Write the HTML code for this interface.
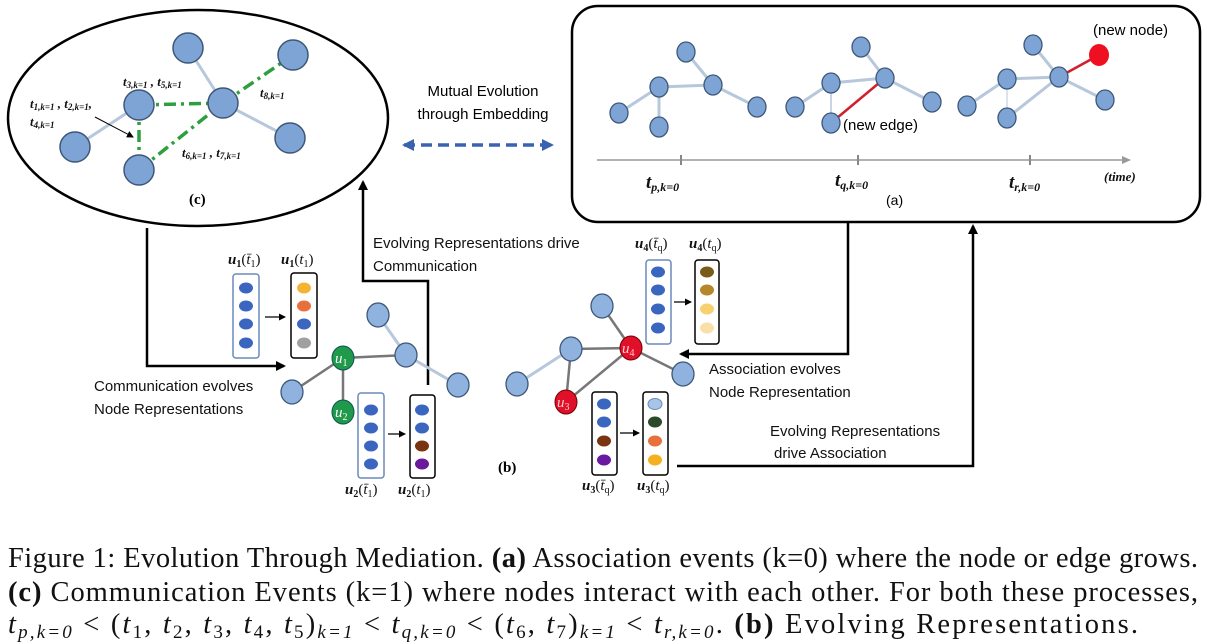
<!DOCTYPE html>
<html><head><meta charset="utf-8"><style>
html,body{margin:0;padding:0;background:#fff;}
svg{display:block;}
.s{font-family:"Liberation Sans",sans-serif;}
.m{font-family:"Liberation Serif",serif;font-style:italic;font-weight:bold;}
.cap{font-family:"Liberation Serif",serif;font-size:28.5px;fill:#111;}
</style></head><body>
<svg width="1207" height="644" viewBox="0 0 1207 644" xmlns="http://www.w3.org/2000/svg">
<defs>
<marker id="ah" markerWidth="10" markerHeight="10" refX="8" refY="5" orient="auto" markerUnits="userSpaceOnUse"><path d="M0,0 L10,5 L0,10 z" fill="#000"/></marker>
<marker id="ahs" markerWidth="7" markerHeight="7" refX="6" refY="3.5" orient="auto" markerUnits="userSpaceOnUse"><path d="M0,0 L7,3.5 L0,7 z" fill="#000"/></marker>
<marker id="ab" markerWidth="12" markerHeight="12" refX="10" refY="6" orient="auto-start-reverse" markerUnits="userSpaceOnUse"><path d="M0,0 L12,6 L0,12 z" fill="#3a62b0"/></marker>
</defs>

<ellipse cx="198" cy="118" rx="190" ry="108" fill="#fff" stroke="#000" stroke-width="2.5"/>
<g stroke="#b7c7dc" stroke-width="3">
<line x1="75" y1="147" x2="139" y2="105"/><line x1="188" y1="48" x2="223" y2="103"/><line x1="223" y1="103" x2="290" y2="138"/>
</g>
<g stroke="#2e9e3e" stroke-width="3.5" stroke-dasharray="12,5,3,5" fill="none">
<line x1="139" y1="105" x2="223" y2="103"/><line x1="139" y1="105" x2="139" y2="170"/><line x1="139" y1="170" x2="223" y2="103"/><line x1="223" y1="103" x2="293" y2="55"/>
</g>
<g fill="#7ea4d6" stroke="#3d5778" stroke-width="1.5">
<circle cx="188" cy="48" r="15"/><circle cx="293" cy="55" r="15"/><circle cx="139" cy="105" r="15"/><circle cx="223" cy="103" r="15"/><circle cx="75" cy="147" r="15"/><circle cx="139" cy="170" r="15"/><circle cx="290" cy="138" r="15"/>
</g>
<line x1="95" y1="117" x2="133" y2="137" stroke="#000" stroke-width="1" marker-end="url(#ahs)"/>
<g class="m" font-size="13" fill="#111">
<text x="123" y="86">t<tspan font-size="9" dy="2">3,k=1</tspan><tspan dy="-2"> , t</tspan><tspan font-size="9" dy="2">5,k=1</tspan></text>
<text x="30" y="108">t<tspan font-size="9" dy="2">1,k=1</tspan><tspan dy="-2"> , t</tspan><tspan font-size="9" dy="2">2,k=1</tspan><tspan dy="-2">,</tspan></text>
<text x="30" y="126">t<tspan font-size="9" dy="2">4,k=1</tspan></text>
<text x="260" y="97">t<tspan font-size="9" dy="2">8,k=1</tspan></text>
<text x="182" y="157">t<tspan font-size="9" dy="2">6,k=1</tspan><tspan dy="-2"> , t</tspan><tspan font-size="9" dy="2">7,k=1</tspan></text>
</g>
<text x="189" y="204" font-family="Liberation Serif,serif" font-weight="bold" font-size="15">(c)</text>

<text class="s" x="483" y="96" font-size="15" text-anchor="middle">Mutual Evolution</text>
<text class="s" x="483" y="119" font-size="15" text-anchor="middle">through Embedding</text>
<line x1="404" y1="145" x2="552" y2="145" stroke="#3a62b0" stroke-width="3.5" stroke-dasharray="11,6" marker-start="url(#ab)" marker-end="url(#ab)"/>

<rect x="572" y="6" width="628" height="216" rx="26" fill="#fff" stroke="#000" stroke-width="2.5"/>
<g stroke="#b7c7dc" stroke-width="3">
<line x1="686" y1="52" x2="713" y2="85"/><line x1="659" y1="87" x2="713" y2="85"/><line x1="659" y1="87" x2="619" y2="113"/><line x1="659" y1="87" x2="659" y2="127"/><line x1="713" y1="85" x2="757" y2="107"/>
<line x1="861" y1="47" x2="885" y2="78"/><line x1="831" y1="83" x2="885" y2="78"/><line x1="831" y1="83" x2="795" y2="107"/><line x1="831" y1="83" x2="831" y2="123" stroke-width="1.5"/><line x1="885" y1="78" x2="932" y2="102"/>
<line x1="1033" y1="45" x2="1059" y2="77"/><line x1="1007" y1="79" x2="1059" y2="77"/><line x1="1007" y1="79" x2="967" y2="106"/><line x1="1007" y1="79" x2="1007" y2="118" stroke-width="1"/><line x1="1059" y1="77" x2="1105" y2="100"/><line x1="1007" y1="118" x2="1059" y2="77"/>
</g>
<line x1="831" y1="123" x2="885" y2="78" stroke="#d0202e" stroke-width="2.5"/>
<line x1="1059" y1="77" x2="1099" y2="55" stroke="#d0202e" stroke-width="2.5"/>
<g fill="#7ea4d6" stroke="#3d5778" stroke-width="1.3">
<ellipse cx="686" cy="52" rx="9" ry="10"/><ellipse cx="659" cy="87" rx="9" ry="10"/><ellipse cx="713" cy="85" rx="9" ry="10"/><ellipse cx="619" cy="113" rx="9" ry="10"/><ellipse cx="659" cy="127" rx="9" ry="10"/><ellipse cx="757" cy="107" rx="9" ry="10"/>
<ellipse cx="861" cy="47" rx="9" ry="10"/><ellipse cx="831" cy="83" rx="9" ry="10"/><ellipse cx="885" cy="78" rx="9" ry="10"/><ellipse cx="795" cy="107" rx="9" ry="10"/><ellipse cx="831" cy="123" rx="9" ry="10"/><ellipse cx="932" cy="102" rx="9" ry="10"/>
<ellipse cx="1033" cy="45" rx="9" ry="10"/><ellipse cx="1007" cy="79" rx="9" ry="10"/><ellipse cx="1059" cy="77" rx="9" ry="10"/><ellipse cx="967" cy="106" rx="9" ry="10"/><ellipse cx="1007" cy="118" rx="9" ry="10"/><ellipse cx="1105" cy="100" rx="9" ry="10"/>
</g>
<ellipse cx="1099" cy="55" rx="10" ry="11" fill="#ee1020"/>
<text class="s" x="843" y="130" font-size="15">(new edge)</text>
<text class="s" x="1093" y="35" font-size="15">(new node)</text>
<line x1="597" y1="160" x2="1128" y2="160" stroke="#999" stroke-width="1.5"/>
<path d="M1122,156 L1131,160 L1122,164 z" fill="#999"/>
<g stroke="#888" stroke-width="2"><line x1="681" y1="155" x2="681" y2="165"/><line x1="858" y1="155" x2="858" y2="165"/><line x1="1030" y1="155" x2="1030" y2="165"/></g>
<g class="m" font-size="19" fill="#111">
<text x="646" y="188">t<tspan font-size="12" dy="3">p,k=0</tspan></text>
<text x="835" y="186">t<tspan font-size="12" dy="3">q,k=0</tspan></text>
<text x="1009" y="188">t<tspan font-size="12" dy="3">r,k=0</tspan></text>
<text x="1104" y="181" font-size="13">(time)</text>
</g>
<text class="s" x="886" y="205" font-size="14">(a)</text>

<polyline points="147,228 147,366 284,366" fill="none" stroke="#000" stroke-width="2.5" marker-end="url(#ah)"/>
<polyline points="428,385 428,281 363,281 363,182" fill="none" stroke="#000" stroke-width="2.5" marker-end="url(#ah)"/>
<polyline points="848,222 848,354 681,354" fill="none" stroke="#000" stroke-width="2.5" marker-end="url(#ah)"/>
<polyline points="677,466 973,466 973,226" fill="none" stroke="#000" stroke-width="2.5" marker-end="url(#ah)"/>

<g class="s" font-size="15" fill="#111">
<text x="373" y="248">Evolving Representations drive</text>
<text x="373" y="271">Communication</text>
<text x="94" y="391">Communication evolves</text>
<text x="94" y="414">Node Representations</text>
<text x="709" y="374">Association evolves</text>
<text x="709" y="397">Node Representation</text>
<text x="770" y="436">Evolving Representations</text>
<text x="774" y="458">drive Association</text>
</g>
<text x="498" y="472" font-family="Liberation Serif,serif" font-weight="bold" font-size="15">(b)</text>

<g stroke="#777" stroke-width="2.5"><line x1="343" y1="358" x2="292" y2="392"/><line x1="343" y1="358" x2="406" y2="355"/><line x1="343" y1="358" x2="343" y2="412"/></g>
<g stroke="#b7c7dc" stroke-width="3"><line x1="378" y1="315" x2="406" y2="355"/><line x1="406" y1="355" x2="458" y2="385"/></g>
<g fill="#8fb2de" stroke="#3d5778" stroke-width="1.3">
<ellipse cx="378" cy="315" rx="11" ry="12"/><ellipse cx="406" cy="355" rx="11" ry="12"/><ellipse cx="292" cy="392" rx="11" ry="12"/><ellipse cx="458" cy="385" rx="11" ry="12"/>
</g>
<g fill="#1e9a4a" stroke="#155"><ellipse cx="343" cy="358" rx="11" ry="12"/><ellipse cx="343" cy="412" rx="11" ry="12"/></g>
<g font-family="Liberation Serif,serif" font-style="italic" font-size="15" fill="#fff">
<text x="335" y="363">u<tspan font-size="10" dy="3" font-style="normal">1</tspan></text>
<text x="335" y="417">u<tspan font-size="10" dy="3" font-style="normal">2</tspan></text>
</g>

<g stroke="#777" stroke-width="2.5"><line x1="602" y1="306" x2="631" y2="348"/><line x1="571" y1="349" x2="631" y2="348"/><line x1="571" y1="349" x2="566" y2="402"/><line x1="566" y1="402" x2="631" y2="348"/><line x1="631" y1="348" x2="683" y2="374"/></g>
<line x1="517" y1="384" x2="571" y2="349" stroke="#b7c7dc" stroke-width="3"/>
<g fill="#8fb2de" stroke="#3d5778" stroke-width="1.3">
<ellipse cx="602" cy="306" rx="11" ry="12"/><ellipse cx="571" cy="349" rx="11" ry="12"/><ellipse cx="517" cy="384" rx="11" ry="12"/><ellipse cx="683" cy="374" rx="11" ry="12"/>
</g>
<g fill="#e0102a" stroke="#700"><ellipse cx="631" cy="348" rx="11" ry="12"/><ellipse cx="566" cy="402" rx="11" ry="12"/></g>
<g font-family="Liberation Serif,serif" font-style="italic" font-size="15" fill="#fcc">
<text x="622" y="353">u<tspan font-size="10" dy="3" font-style="normal">4</tspan></text>
<text x="557" y="407">u<tspan font-size="10" dy="3" font-style="normal">3</tspan></text>
</g>

<g stroke-width="1.5" fill="#fff">
<rect x="233" y="274" width="26" height="84" rx="3" stroke="#6a8ab8"/>
<rect x="291" y="273" width="26" height="85" rx="3" stroke="#000"/>
<rect x="358" y="393" width="26" height="85" rx="3" stroke="#6a8ab8"/>
<rect x="410" y="395" width="25" height="83" rx="3" stroke="#000"/>
<rect x="646" y="260" width="25" height="84" rx="3" stroke="#6a8ab8"/>
<rect x="695" y="260" width="24" height="84" rx="3" stroke="#000"/>
<rect x="592" y="392" width="25" height="83" rx="3" stroke="#000"/>
<rect x="643" y="392" width="25" height="83" rx="3" stroke="#000"/>
</g>
<g>
<g fill="#3b66c0"><ellipse cx="246" cy="288" rx="7" ry="5.5"/><ellipse cx="246" cy="306" rx="7" ry="5.5"/><ellipse cx="246" cy="324" rx="7" ry="5.5"/><ellipse cx="246" cy="343" rx="7" ry="5.5"/></g>
<ellipse cx="304" cy="288" rx="7" ry="5.5" fill="#f5b335"/><ellipse cx="304" cy="306" rx="7" ry="5.5" fill="#e8703a"/><ellipse cx="304" cy="324" rx="7" ry="5.5" fill="#3b66c0"/><ellipse cx="304" cy="343" rx="7" ry="5.5" fill="#a0a0a0"/>
<g fill="#3b66c0"><ellipse cx="371" cy="410" rx="7" ry="5.5"/><ellipse cx="371" cy="428" rx="7" ry="5.5"/><ellipse cx="371" cy="446" rx="7" ry="5.5"/><ellipse cx="371" cy="464" rx="7" ry="5.5"/></g>
<ellipse cx="422" cy="410" rx="7" ry="5.5" fill="#3b66c0"/><ellipse cx="422" cy="428" rx="7" ry="5.5" fill="#3b66c0"/><ellipse cx="422" cy="446" rx="7" ry="5.5" fill="#7a3410"/><ellipse cx="422" cy="464" rx="7" ry="5.5" fill="#6a1a9a"/>
<g fill="#3b66c0"><ellipse cx="658" cy="272" rx="7" ry="5.5"/><ellipse cx="658" cy="290" rx="7" ry="5.5"/><ellipse cx="658" cy="309" rx="7" ry="5.5"/><ellipse cx="658" cy="328" rx="7" ry="5.5"/></g>
<ellipse cx="707" cy="272" rx="7" ry="5.5" fill="#7a5a1a"/><ellipse cx="707" cy="290" rx="7" ry="5.5" fill="#b5862a"/><ellipse cx="707" cy="309" rx="7" ry="5.5" fill="#f7d070"/><ellipse cx="707" cy="328" rx="7" ry="5.5" fill="#f9e0a8"/>
<ellipse cx="604" cy="404" rx="7" ry="5.5" fill="#3b66c0"/><ellipse cx="604" cy="422" rx="7" ry="5.5" fill="#3b66c0"/><ellipse cx="604" cy="441" rx="7" ry="5.5" fill="#7a3410"/><ellipse cx="604" cy="460" rx="7" ry="5.5" fill="#6a1aa0"/>
<ellipse cx="655" cy="404" rx="7" ry="5.5" fill="#a8c4e8" stroke="#6a8ab8"/><ellipse cx="655" cy="422" rx="7" ry="5.5" fill="#2a4a2a"/><ellipse cx="655" cy="441" rx="7" ry="5.5" fill="#e8703a"/><ellipse cx="655" cy="460" rx="7" ry="5.5" fill="#f5b020"/>
</g>
<g stroke="#000" stroke-width="1.2">
<line x1="265" y1="317" x2="285" y2="317" marker-end="url(#ahs)"/>
<line x1="388" y1="434" x2="405" y2="434" marker-end="url(#ahs)"/>
<line x1="674" y1="302" x2="691" y2="302" marker-end="url(#ahs)"/>
<line x1="620" y1="433" x2="639" y2="433" marker-end="url(#ahs)"/>
</g>
<g font-family="Liberation Serif,serif" font-size="15" fill="#111">
<text x="228" y="264"><tspan font-weight="bold" font-style="italic">u</tspan><tspan font-weight="bold" font-size="10" dy="3">1</tspan><tspan dy="-3">(</tspan><tspan font-style="italic">t̄</tspan><tspan font-size="10" dy="3">1</tspan><tspan dy="-3">)</tspan></text>
<text x="281" y="264"><tspan font-weight="bold" font-style="italic">u</tspan><tspan font-weight="bold" font-size="10" dy="3">1</tspan><tspan dy="-3">(</tspan><tspan font-style="italic">t</tspan><tspan font-size="10" dy="3">1</tspan><tspan dy="-3">)</tspan></text>
<text x="345" y="494"><tspan font-weight="bold" font-style="italic">u</tspan><tspan font-weight="bold" font-size="10" dy="3">2</tspan><tspan dy="-3">(</tspan><tspan font-style="italic">t̄</tspan><tspan font-size="10" dy="3">1</tspan><tspan dy="-3">)</tspan></text>
<text x="398" y="494"><tspan font-weight="bold" font-style="italic">u</tspan><tspan font-weight="bold" font-size="10" dy="3">2</tspan><tspan dy="-3">(</tspan><tspan font-style="italic">t</tspan><tspan font-size="10" dy="3">1</tspan><tspan dy="-3">)</tspan></text>
<text x="635" y="248"><tspan font-weight="bold" font-style="italic">u</tspan><tspan font-weight="bold" font-size="10" dy="3">4</tspan><tspan dy="-3">(</tspan><tspan font-style="italic">t̄</tspan><tspan font-size="10" dy="3">q</tspan><tspan dy="-3">)</tspan></text>
<text x="689" y="248"><tspan font-weight="bold" font-style="italic">u</tspan><tspan font-weight="bold" font-size="10" dy="3">4</tspan><tspan dy="-3">(</tspan><tspan font-style="italic">t</tspan><tspan font-size="10" dy="3">q</tspan><tspan dy="-3">)</tspan></text>
<text x="582" y="490"><tspan font-weight="bold" font-style="italic">u</tspan><tspan font-weight="bold" font-size="10" dy="3">3</tspan><tspan dy="-3">(</tspan><tspan font-style="italic">t̄</tspan><tspan font-size="10" dy="3">q</tspan><tspan dy="-3">)</tspan></text>
<text x="637" y="490"><tspan font-weight="bold" font-style="italic">u</tspan><tspan font-weight="bold" font-size="10" dy="3">3</tspan><tspan dy="-3">(</tspan><tspan font-style="italic">t</tspan><tspan font-size="10" dy="3">q</tspan><tspan dy="-3">)</tspan></text>
</g>

<text class="cap" x="8" y="567" textLength="1190" lengthAdjust="spacing">Figure 1: Evolution Through Mediation. <tspan font-weight="bold">(a)</tspan> Association events (k=0) where the node or edge grows.</text>
<text class="cap" x="8" y="601" textLength="1190" lengthAdjust="spacing"><tspan font-weight="bold">(c)</tspan> Communication Events (k=1) where nodes interact with each other. For both these processes,</text>
<text class="cap" x="8" y="633" textLength="1130" lengthAdjust="spacing"><tspan font-style="italic">t</tspan><tspan font-size="19" dy="5" font-style="italic">p,k=0</tspan><tspan dy="-5"> &lt; (</tspan><tspan font-style="italic">t</tspan><tspan font-size="19" dy="5">1</tspan><tspan dy="-5">, </tspan><tspan font-style="italic">t</tspan><tspan font-size="19" dy="5">2</tspan><tspan dy="-5">, </tspan><tspan font-style="italic">t</tspan><tspan font-size="19" dy="5">3</tspan><tspan dy="-5">, </tspan><tspan font-style="italic">t</tspan><tspan font-size="19" dy="5">4</tspan><tspan dy="-5">, </tspan><tspan font-style="italic">t</tspan><tspan font-size="19" dy="5">5</tspan><tspan dy="-5">)</tspan><tspan font-size="19" dy="5" font-style="italic">k=1</tspan><tspan dy="-5"> &lt; </tspan><tspan font-style="italic">t</tspan><tspan font-size="19" dy="5" font-style="italic">q,k=0</tspan><tspan dy="-5"> &lt; (</tspan><tspan font-style="italic">t</tspan><tspan font-size="19" dy="5">6</tspan><tspan dy="-5">, </tspan><tspan font-style="italic">t</tspan><tspan font-size="19" dy="5">7</tspan><tspan dy="-5">)</tspan><tspan font-size="19" dy="5" font-style="italic">k=1</tspan><tspan dy="-5"> &lt; </tspan><tspan font-style="italic">t</tspan><tspan font-size="19" dy="5" font-style="italic">r,k=0</tspan><tspan dy="-5">. </tspan><tspan font-weight="bold">(b)</tspan> Evolving Representations.</text>
</svg>
</body></html>
